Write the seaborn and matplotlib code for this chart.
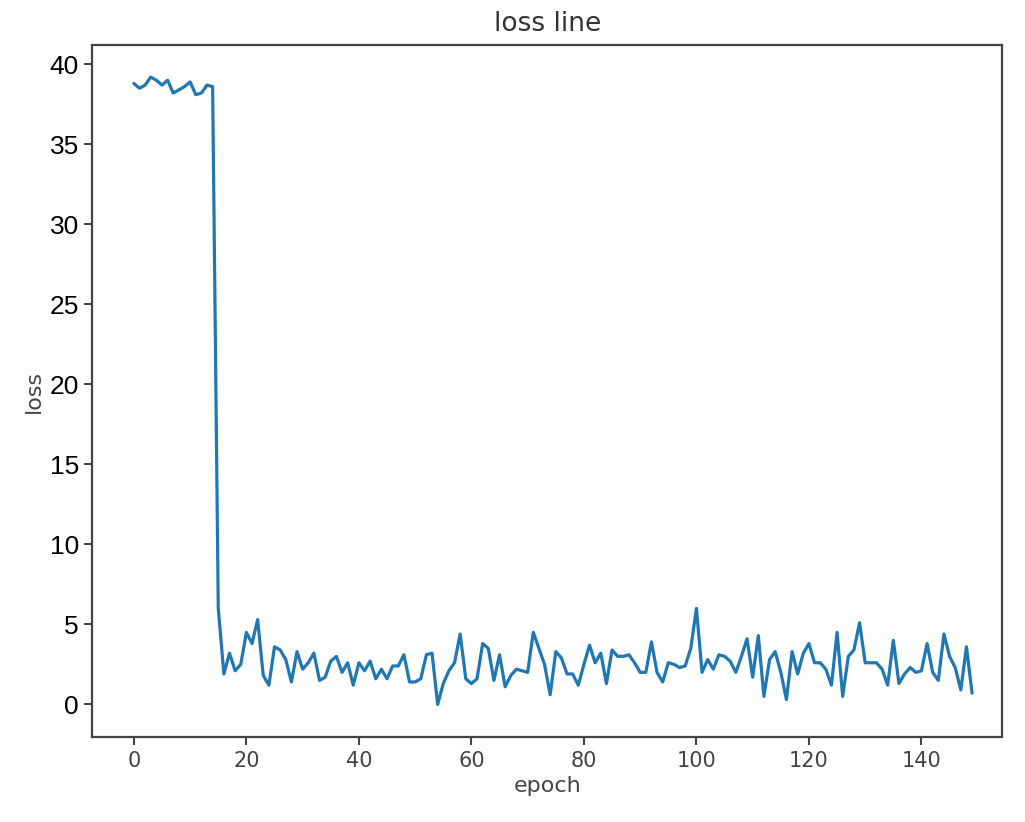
import numpy as np
import pandas as pd
import matplotlib
matplotlib.use("Agg")
import matplotlib.pyplot as plt
import seaborn as sns

# loss per epoch
loss_head = [38.8, 38.5, 38.7, 39.2, 39.0, 38.7, 39.0, 38.2, 38.4, 38.6,
             38.9, 38.1, 38.2, 38.7, 38.6]
loss_tail = [6.0, 1.9, 3.2, 2.1, 2.5, 4.5, 3.8, 5.3, 1.8, 1.2,
             3.6, 3.4, 2.8, 1.4, 3.3, 2.2, 2.6, 3.2, 1.5, 1.7,
             2.7, 3.0, 2.0, 2.6, 1.2, 2.6, 2.1, 2.7, 1.6, 2.2,
             1.6, 2.4, 2.4, 3.1, 1.4, 1.4, 1.6, 3.1, 3.2, 0.0,
             1.3, 2.1, 2.6, 4.4, 1.6, 1.3, 1.6, 3.8, 3.5, 1.5,
             3.1, 1.1, 1.8, 2.2, 2.1, 2.0, 4.5, 3.5, 2.5, 0.6,
             3.3, 2.9, 1.9, 1.9, 1.2, 2.5, 3.7, 2.6, 3.2, 1.3,
             3.4, 3.0, 3.0, 3.1, 2.6, 2.0, 2.0, 3.9, 2.0, 1.4,
             2.6, 2.5, 2.3, 2.4, 3.5, 6.0, 2.0, 2.8, 2.2, 3.1,
             3.0, 2.7, 2.0, 3.0, 4.1, 1.7, 4.3, 0.5, 2.8, 3.3,
             2.0, 0.3, 3.3, 1.9, 3.2, 3.8, 2.6, 2.6, 2.2, 1.2,
             4.5, 0.5, 3.0, 3.4, 5.1, 2.6, 2.6, 2.6, 2.2, 1.2,
             4.0, 1.3, 1.9, 2.3, 2.0, 2.1, 3.8, 2.0, 1.5, 4.4,
             3.0, 2.3, 0.9, 3.6, 0.7]
loss = loss_head + loss_tail
epoch = list(range(len(loss)))

df = pd.DataFrame({"epoch": epoch, "loss": loss})

sns.set_style("ticks")
plt.rcParams["font.family"] = ["DejaVu Sans"]

fig, ax = plt.subplots(figsize=(10.25, 8.22), dpi=100)
fig.subplots_adjust(left=0.09, right=0.978, top=0.945, bottom=0.103)

sns.lineplot(data=df, x="epoch", y="loss", ax=ax, color="#1f77b4", linewidth=2.3)

ax.set_title("loss line", fontsize=19, color="#333333", pad=10)
ax.set_xlabel("epoch", fontsize=16, color="#444444")
ax.set_ylabel("loss", fontsize=16, color="#444444")
ax.set_xticks(range(0, 141, 20))
ax.set_yticks(range(0, 41, 5))
ax.tick_params(axis="x", labelsize=15, colors="#444444", length=6, width=1.5)
ax.tick_params(axis="y", labelsize=19, labelcolor="black", color="#444444", length=6, width=1.5)
for lbl in ax.get_yticklabels():
    lbl.set_family("Liberation Sans")
for sp in ax.spines.values():
    sp.set_visible(True)
    sp.set_color("#444444")
    sp.set_linewidth(1.6)
ax.set_xlim(-7.4, 154.4)
ax.set_ylim(-2.06, 41.19)

fig.savefig("out.png", dpi=100)
